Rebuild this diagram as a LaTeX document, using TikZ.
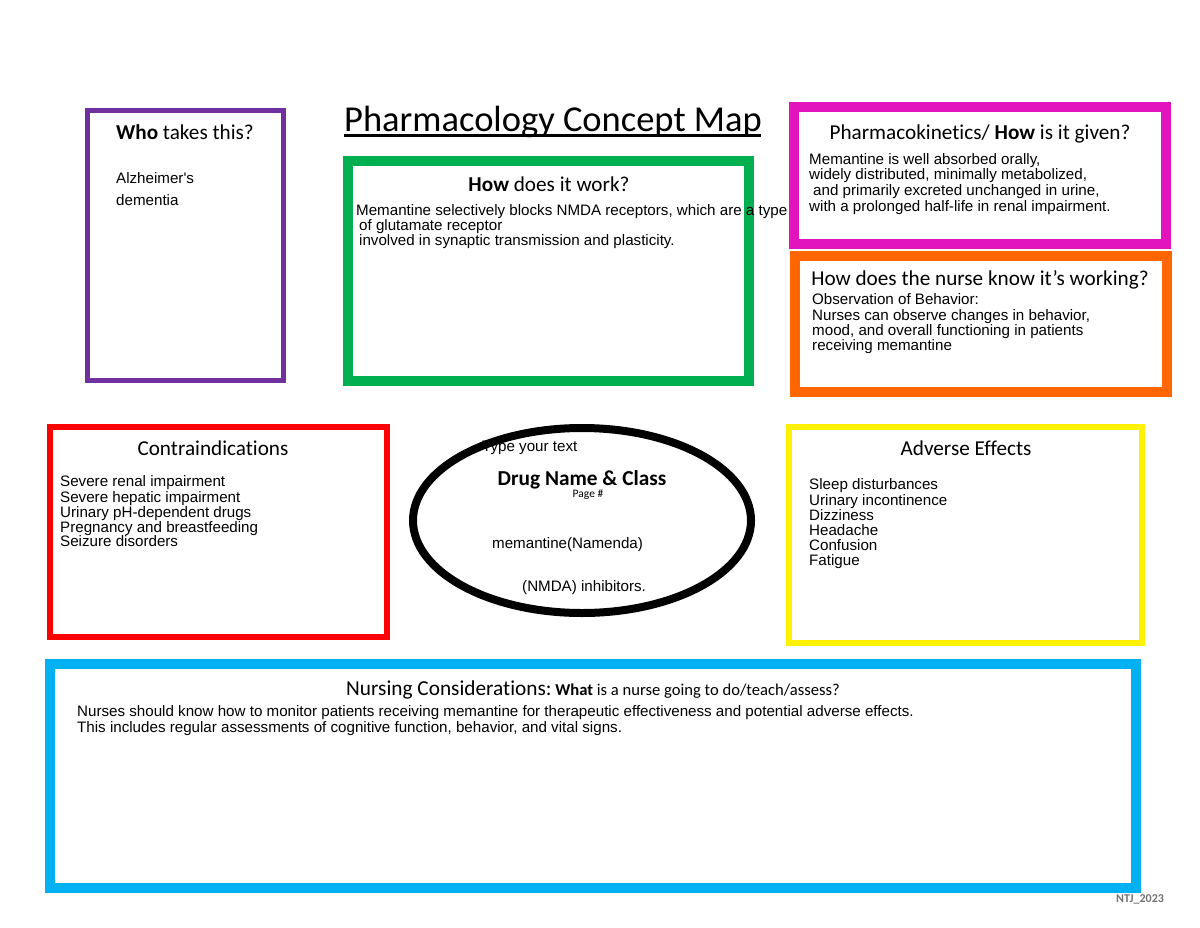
\documentclass[tikz,border=0pt]{standalone}
\usepackage{fontspec}
\setmainfont{Liberation Sans}
\newfontfamily\plainfont{Liberation Sans}
\newfontfamily\calfont[Ligatures=NoCommon]{Carlito}
\newcommand{\fsz}[1]{\fontsize{#1}{#1}\selectfont}
\definecolor{cpurple}{RGB}{112,48,160}
\definecolor{cgreen}{RGB}{0,176,80}
\definecolor{cmag}{RGB}{225,20,190}
\definecolor{corange}{RGB}{255,102,0}
\definecolor{cblue}{RGB}{0,176,240}
\tikzset{x=1pt,y=-1pt,
 box/.style={draw=#1,line width=10pt,fill=none,miter limit=10},
 thinbox/.style={draw=#1,line width=5.5pt},
 body/.style={anchor=base west,inner sep=0pt,font=\plainfont\fsz{15.15}},
 head/.style={anchor=base,inner sep=0pt,font=\calfont\fsz{21.2}},
}
\begin{document}
\begin{tikzpicture}
\useasboundingbox (0,0) rectangle (1200,927);
\fill[white] (0,0) rectangle (1200,927);
% boxes
\draw[thinbox=cpurple] (87.5,110.5) rectangle (283.5,380.5);
\draw[box=cgreen] (348,161) rectangle (749,381);
\draw[box=cmag] (794,107) rectangle (1166,244);
\draw[box=corange] (795,256) rectangle (1167,392);
\draw[thinbox=red] (50,427) rectangle (387,637);
\draw[thinbox=yellow] (789,427) rectangle (1142,643);
\draw[box=cblue] (50,664) rectangle (1136,888);
% title
\node[anchor=base west,inner sep=0pt,font=\calfont\fsz{36.5}] (title) at (344,131) {Pharmacology Concept Map};
\draw[line width=2.6pt] (344,135.5) -- (761,135.5);
% purple
\node[head] (who) at (185,139) {\textbf{Who} takes this?};
\node[body] (whoa) at (116,183) {Alzheimer's};
\node[body] (whob) at (116,205) {dementia};
% green
\node[head] (how) at (549,191) {\textbf{How} does it work?};
\node[body] (g1) at (356,215) {Memantine selectively blocks NMDA receptors, which are a type};
\node[body] (g2) at (359,230) {of glutamate receptor};
\node[body] (g3) at (359,245) {involved in synaptic transmission and plasticity.};
% magenta
\node[head] (pk) at (980,139) {Pharmacokinetics/ \textbf{How} is it given?};
\node[body] (m1) at (809,164) {Memantine is well absorbed orally,};
\node[body] (m2) at (809,179) {widely distributed, minimally metabolized,};
\node[body] (m3) at (813,195) {and primarily excreted unchanged in urine,};
\node[body] (m4) at (809,211) {with a prolonged half-life in renal impairment.};
% orange
\node[head] (nk) at (980,285) {How does the nurse know it’s working?};
\node[body] (o1) at (812,304) {Observation of Behavior:};
\node[body] (o2) at (812,320) {Nurses can observe changes in behavior,};
\node[body] (o3) at (812,335) {mood, and overall functioning in patients};
\node[body] (o4) at (812,350) {receiving memantine};
% red
\node[head] (ci) at (213,455) {Contraindications};
\node[body] (r1) at (60,486) {Severe renal impairment};
\node[body] (r2) at (60,502) {Severe hepatic impairment};
\node[body] (r3) at (60,517) {Urinary pH-dependent drugs};
\node[body] (r4) at (60,532) {Pregnancy and breastfeeding};
\node[body] (r5) at (60,546) {Seizure disorders};
% yellow
\node[head] (ae) at (966,455) {Adverse Effects};
\node[body] (y1) at (809,489) {Sleep disturbances};
\node[body] (y2) at (809,505) {Urinary incontinence};
\node[body] (y3) at (809,520) {Dizziness};
\node[body] (y4) at (809,535) {Headache};
\node[body] (y5) at (809,550) {Confusion};
\node[body] (y6) at (809,565) {Fatigue};
% ellipse
\node[body] (tt) at (482,451) {Type your text};
\draw[line width=8pt] (582,520.5) ellipse [x radius=169,y radius=92.5];
\node[anchor=base,inner sep=0pt,font=\calfont\bfseries\fsz{21.3}] (dn) at (582,485) {Drug Name \& Class};
\node[anchor=base,inner sep=0pt,font=\calfont\fsz{11.5}] (pg) at (588,497) {Page \#};
\node[body] (d1) at (492,548) {memantine(Namenda)};
\node[body] (d2) at (522,591) {(NMDA) inhibitors.};
% blue
\node[anchor=base,inner sep=0pt] (nc) at (593,695) {{\calfont\fsz{21.3}Nursing Considerations:} {\calfont\fsz{16.6}\textbf{What} is a nurse going to do/teach/assess?}};
\node[body] (b1) at (77,716) {Nurses should know how to monitor patients receiving memantine for therapeutic effectiveness and potential adverse effects.};
\node[body] (b2) at (77,732) {This includes regular assessments of cognitive function, behavior, and vital signs.};
\node[anchor=base west,inner sep=0pt,font=\calfont\bfseries\fsz{12},text=black!55] (ntj) at (1116,902) {NTJ\_2023};
\end{tikzpicture}
\end{document}
